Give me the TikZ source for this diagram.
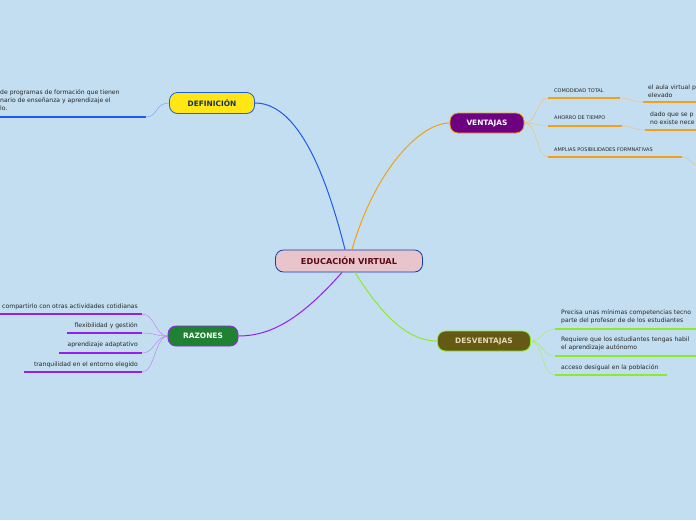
\documentclass[tikz,border=0pt]{standalone}
\usepackage{fontspec}
\setmainfont{DejaVu Sans}
\begin{document}
\begin{tikzpicture}[x=1pt,y=-1pt,
 main/.style={draw=#1,rounded corners=8pt,line width=0.8pt,font=\bfseries\fontsize{7.4}{8}\selectfont,inner sep=0pt},
 leaf/.style={font=\fontsize{6.1}{8}\selectfont,inner sep=0pt,align=left,text=black!85},
 capt/.style={font=\fontsize{5}{6}\selectfont,inner sep=0pt,text=black!85},
 ul/.style={line width=1.5pt}]
\clip (0,0) rectangle (696,520);
\fill[fill={rgb,255:red,195;green,222;blue,240}] (0,0) rectangle (696,520);
\definecolor{cb}{RGB}{30,90,240}
\definecolor{co}{RGB}{245,160,20}
\definecolor{cg}{RGB}{140,235,40}
\definecolor{cp}{RGB}{150,30,240}
% main nodes
\node[main=cb!70!black,fill={rgb,255:red,232;green,196;blue,204},minimum width=147,minimum height=22,text={rgb,255:red,90;green,10;blue,20},font=\bfseries\fontsize{8.2}{9}\selectfont] (c) at (349,261) {EDUCACIÓN VIRTUAL};
\node[main=cb,fill={rgb,255:red,255;green,230;blue,20},minimum width=85,minimum height=21,text={rgb,255:red,20;green,50;blue,90}] (def) at (212,103) {DEFINICIÓN};
\node[main=co,fill={rgb,255:red,110;green,0;blue,130},minimum width=74,minimum height=20,text=white] (ven) at (487,123) {VENTAJAS};
\node[main=cg,fill={rgb,255:red,100;green,90;blue,20},minimum width=93,minimum height=20,text={rgb,255:red,230;green,220;blue,180}] (des) at (484,341) {DESVENTAJAS};
\node[main=cp,fill={rgb,255:red,30;green,130;blue,50},minimum width=70,minimum height=20,text=white] (raz) at (203,336) {RAZONES};
% main connectors
\draw[cb,line width=1pt] ([xshift=-4pt]c.north) .. controls (320,150) and (290,103) .. (def.east);
\draw[co,line width=1pt] ([xshift=3pt]c.north) .. controls (375,170) and (420,123) .. (ven.west);
\draw[cg,line width=1pt] ([xshift=6pt]c.south) .. controls (385,320) and (410,341) .. (des.west);
\draw[cp,line width=1pt] ([xshift=-7pt]c.south) .. controls (300,320) and (270,336) .. (raz.east);
% definicion
\node[leaf,anchor=north west] (d1) at (0,89) {de programas de formación que tienen\\nario de enseñanza y aprendizaje el\\lo.};
\coordinate (d1e) at (146,117);
\draw[cb,ul] (-2,117) -- (d1e);
\draw[cb!60] (def.west) .. controls (155,103) and (158,117) .. (d1e);
% ventajas
\coordinate (vo) at (524,123);
\node[capt,anchor=west] (v1) at (554,91) {COMODIDAD TOTAL};
\node[capt,anchor=west] (v2) at (554,118) {AHORRO DE TIEMPO};
\node[capt,anchor=west] (v3) at (554,150) {AMPLIAS POSIBILIDADES FORMNATIVAS};
\draw[co,ul] (548,98) coordinate (v1s) -- (620,98) coordinate (v1e);
\draw[co,ul] (548,126) coordinate (v2s) -- (622,126) coordinate (v2e);
\draw[co,ul] (548,157) coordinate (v3s) -- (682,157) coordinate (v3e);
\foreach \s in {v1s,v2s,v3s} \draw[co!70] (vo) .. controls ([xshift=14pt]vo) and ([xshift=-12pt]\s) .. (\s);
\node[leaf,anchor=west] (v11) at (648,91) {el aula virtual p\\elevado};
\node[leaf,anchor=west] (v21) at (650,118) {dado que se p\\no existe nece};
\draw[co,ul] (643,102) coordinate (v11s) -- (700,102);
\draw[co,ul] (645,130) coordinate (v21s) -- (700,130);
\draw[co!70] (v1e) .. controls (632,98) and (630,102) .. (v11s);
\draw[co!70] (v2e) .. controls (634,126) and (632,130) .. (v21s);
\draw[co!70] (v3e) .. controls (690,157) and (690,165) .. (700,166);
% desventajas
\coordinate (dO) at (530,341);
\node[leaf,anchor=west] (e1) at (561,317) {Precisa unas mínimas competencias tecno\\parte del profesor de de los estudiantes};
\node[leaf,anchor=west] (e2) at (561,344) {Requiere que los estudiantes tengas habil\\el aprendizaje autónomo};
\node[leaf,anchor=west] (e3) at (561,368) {acceso desigual en la población};
\draw[cg,ul] (555,329) coordinate (e1s) -- (700,329);
\draw[cg,ul] (555,356) coordinate (e2s) -- (700,356);
\draw[cg,ul] (555,375) coordinate (e3s) -- (667,375);
\foreach \s in {e1s,e2s,e3s} \draw[cg!80] (dO) .. controls ([xshift=14pt]dO) and ([xshift=-14pt]\s) .. (\s);
% razones
\coordinate (rO) at (168,336);
\node[leaf,anchor=east] (r1) at (138,307) {compartirlo con otras actividades cotidianas};
\node[leaf,anchor=east] (r2) at (138,326) {flexibilidad y gestión};
\node[leaf,anchor=east] (r3) at (138,345) {aprendizaje adaptativo};
\node[leaf,anchor=east] (r4) at (138,365) {tranquilidad en el entorno elegido};
\draw[cp,ul] (-5,314) -- (142,314) coordinate (r1s);
\draw[cp,ul] (67,333) -- (142,333) coordinate (r2s);
\draw[cp,ul] (59,353) -- (142,353) coordinate (r3s);
\draw[cp,ul] (24,372) -- (142,372) coordinate (r4s);
\foreach \s in {r1s,r2s,r3s,r4s} \draw[cp!60] (rO) .. controls ([xshift=-13pt]rO) and ([xshift=13pt]\s) .. (\s);
\end{tikzpicture}
\end{document}
